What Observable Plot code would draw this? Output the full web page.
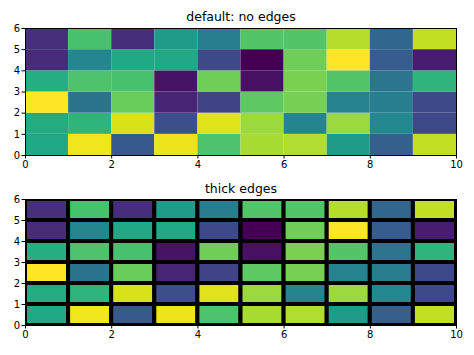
<!DOCTYPE html>
<html>
<head>
<meta charset="utf-8">
<script src="https://cdn.jsdelivr.net/npm/d3@7"></script>
<script src="https://cdn.jsdelivr.net/npm/@observablehq/plot@0.6"></script>
<style>
  body { margin: 0; background: #fff; }
  svg { display: block; }
</style>
</head>
<body>
<div id="chart"></div>
<script>
// Rows from y=0 (bottom) to y=5 (top); 10 columns each
const row0 = [0.60, 0.98, 0.28, 0.97, 0.72, 0.87, 0.88, 0.55, 0.30, 0.91];
const row1 = [0.61, 0.65, 0.94, 0.24, 0.95, 0.85, 0.45, 0.85, 0.47, 0.22];
const row2 = [1.00, 0.38, 0.77, 0.10, 0.20, 0.75, 0.79, 0.44, 0.42, 0.22];
const row3 = [0.62, 0.72, 0.71, 0.05, 0.78, 0.04, 0.80, 0.73, 0.39, 0.65];
const row4 = [0.12, 0.46, 0.60, 0.60, 0.22, 0.00, 0.78, 1.00, 0.29, 0.08];
const row5 = [0.14, 0.71, 0.13, 0.55, 0.42, 0.73, 0.73, 0.89, 0.33, 0.91];
const rows = [row0, row1, row2, row3, row4, row5];
const xTicks = [0, 2, 4, 6, 8, 10];
const yTicks = [0, 1, 2, 3, 4, 5, 6];
const titles = ["default: no edges", "thick edges"];

const cells = [];
rows.forEach((r, i) => r.forEach((v, j) => cells.push({x1: j, x2: j + 1, y1: i, y2: i + 1, v})));
const ext = d3.extent(cells, d => d.v);

function makePlot(title, edges, height, mt, mb, titleDy) {
  return Plot.plot({
    width: 474,
    height,
    marginLeft: 25,
    marginRight: 18,
    marginTop: mt,
    marginBottom: mb,
    style: {fontFamily: "DejaVu Sans, sans-serif", fontSize: "10px", color: "#000", background: "#fff"},
    x: {domain: [0, 10]},
    y: {domain: [0, 6]},
    color: {type: "linear", scheme: "viridis", domain: ext},
    marks: [
      Plot.rect(cells, {
        x1: "x1", x2: "x2", y1: "y1", y2: "y2", fill: "v",
        stroke: edges ? "#000" : null, strokeWidth: edges ? 4 : 0,
        inset: 0, clip: true
      }),
      Plot.frame({stroke: "#000", strokeWidth: 1}),
      Plot.axisX({ticks: xTicks, tickFormat: "d", tickSize: 3.5, tickPadding: 2, fontSize: 10, label: null, stroke: "#000"}),
      Plot.axisY({ticks: yTicks, tickFormat: "d", tickSize: 3.5, tickPadding: 2, fontSize: 10, label: null, stroke: "#000"}),
      Plot.text([title], {frameAnchor: "top", dy: -mt + titleDy, text: d => d, fontSize: 12.5, lineAnchor: "top", fill: "#000"})
    ]
  });
}

const el = document.getElementById("chart");
el.appendChild(makePlot(titles[0], false, 177, 28, 22, 12));
el.appendChild(makePlot(titles[1], true, 178, 22, 30, 7));
</script>
</body>
</html>
